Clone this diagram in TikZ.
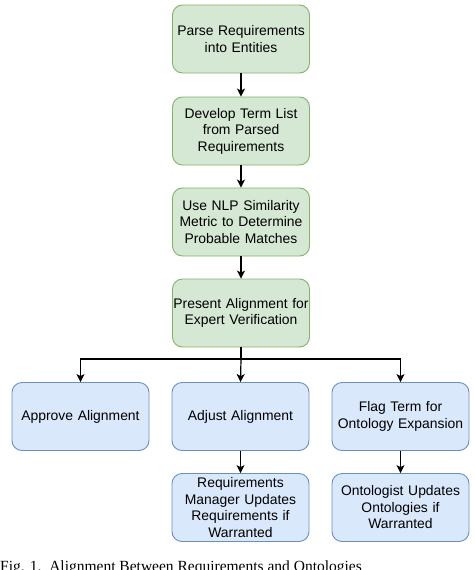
\documentclass[tikz,border=0pt]{standalone}
\usepackage{fontspec}
\setmainfont{Liberation Sans}
\newfontfamily\capfont{Liberation Serif}
\usetikzlibrary{arrows.meta}
\hyphenpenalty=10000
\exhyphenpenalty=10000
\definecolor{gfill}{HTML}{D5E8D4}
\definecolor{gdraw}{HTML}{82B366}
\definecolor{bfill}{HTML}{DAE8FC}
\definecolor{bdraw}{HTML}{6C8EBF}
\tikzset{
  box/.style={rounded corners=10pt, minimum width=137pt, minimum height=68pt,
    text width=136pt, align=center, inner sep=0.5pt, line width=0.9pt,
    font=\fontsize{13.9pt}{16.5pt}\selectfont},
  gbox/.style={box, fill=gfill, draw=gdraw},
  bbox/.style={box, fill=bfill, draw=bdraw},
  conn/.style={line width=1.2pt, -{Stealth[length=8pt,width=8pt,inset=2pt]}},
}
\begin{document}
\begin{tikzpicture}[x=1pt,y=-1pt]
\useasboundingbox (0,0) rectangle (474,570);
\fill[white] (0,0) rectangle (474,570);
\node[gbox] (a) at (241,39) {Parse Requirements\\into Entities};
\node[gbox] (b) at (241,131) {Develop Term List\\from Parsed\\Requirements};
\node[gbox] (c) at (241,222) {Use NLP Similarity\\Metric to Determine\\Probable Matches};
\node[gbox] (d) at (241,313) {Present Alignment for\\Expert Verification};
\node[bbox] (e) at (80.5,416.5) {Approve Alignment};
\node[bbox] (f) at (240.5,416.5) {Adjust Alignment};
\node[bbox] (g) at (400.5,416.5) {Flag Term for\\Ontology Expansion};
\node[bbox] (h) at (240.5,507.5) {Requirements\\Manager Updates\\Requirements if\\Warranted};
\node[bbox] (i) at (400.5,507.5) {Ontologist Updates\\Ontologies if\\Warranted};
\coordinate (j) at (241,359);
\draw[conn] (a) -- (b);
\draw[conn] (b) -- (c);
\draw[conn] (c) -- (d);
\draw[line width=1.2pt] (d.south) -- (j);
\draw[conn] (j) -| (e.north);
\draw[conn] (j) -| (g.north);
\draw[conn] (j) -- (f.north);
\draw[conn] (f) -- (h);
\draw[conn] (g) -- (i);
\node[anchor=north west, inner sep=0pt, font=\capfont\fontsize{15.5pt}{17pt}\selectfont] (cap) at (0,561) {Fig. 1.\ \ Alignment Between Requirements and Ontologies};
\end{tikzpicture}
\end{document}
